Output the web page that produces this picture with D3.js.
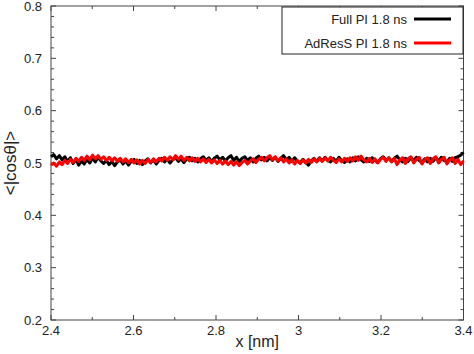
<!DOCTYPE html>
<html>
<head>
<meta charset="utf-8">
<script src="https://cdn.jsdelivr.net/npm/d3@7"></script>
<style>
  body { margin: 0; background: #fff; }
  svg { display: block; font-family: "Liberation Sans", Arial, sans-serif; }
</style>
</head>
<body>
<div id="chart"></div>
<script>
const W = 474, H = 354;
const margin = { top: 6, right: 10.5, bottom: 34, left: 51 };

// sampled <|cos theta|> profiles, evenly spaced from x0 to x1
const x0 = 2.4, x1 = 3.4;
const fullPI = [
  0.512,0.516,0.508,0.514,0.506,0.512,0.503,0.510,0.499,0.507,
  0.496,0.504,0.498,0.507,0.500,0.509,0.502,0.511,0.504,0.499,
  0.505,0.497,0.503,0.495,0.502,0.506,0.498,0.504,0.496,0.503,
  0.507,0.499,0.505,0.497,0.504,0.508,0.500,0.506,0.498,0.505,
  0.509,0.502,0.507,0.500,0.506,0.510,0.503,0.508,0.501,0.507,
  0.511,0.504,0.509,0.502,0.508,0.512,0.505,0.510,0.503,0.509,
  0.513,0.506,0.511,0.504,0.510,0.514,0.505,0.511,0.503,0.509,
  0.512,0.505,0.510,0.502,0.509,0.513,0.506,0.511,0.504,0.510,
  0.505,0.511,0.503,0.509,0.514,0.506,0.511,0.503,0.510,0.504,
  0.500,0.507,0.501,0.496,0.504,0.509,0.503,0.510,0.504,0.511,
  0.505,0.502,0.509,0.503,0.511,0.505,0.501,0.508,0.502,0.510,
  0.504,0.512,0.506,0.502,0.509,0.503,0.510,0.505,0.501,0.508,
  0.512,0.505,0.510,0.503,0.509,0.513,0.506,0.502,0.509,0.503,
  0.510,0.504,0.511,0.505,0.501,0.508,0.502,0.509,0.503,0.510,
  0.504,0.511,0.505,0.502,0.509,0.503,0.510,0.512,0.515,0.520
];
const adress = [
  0.496,0.500,0.494,0.502,0.497,0.505,0.499,0.507,0.501,0.509,
  0.503,0.511,0.505,0.513,0.506,0.515,0.508,0.514,0.507,0.512,
  0.505,0.511,0.504,0.510,0.503,0.509,0.502,0.508,0.501,0.507,
  0.500,0.506,0.498,0.505,0.499,0.507,0.501,0.508,0.502,0.509,
  0.504,0.511,0.505,0.512,0.506,0.514,0.507,0.513,0.505,0.511,
  0.504,0.510,0.503,0.509,0.502,0.508,0.501,0.507,0.500,0.506,
  0.499,0.505,0.498,0.504,0.497,0.503,0.496,0.502,0.495,0.501,
  0.505,0.498,0.504,0.508,0.501,0.507,0.511,0.504,0.510,0.514,
  0.506,0.512,0.504,0.510,0.502,0.508,0.500,0.506,0.498,0.505,
  0.499,0.506,0.500,0.507,0.501,0.508,0.502,0.509,0.503,0.510,
  0.504,0.511,0.505,0.501,0.508,0.502,0.509,0.503,0.510,0.504,
  0.512,0.505,0.513,0.506,0.502,0.509,0.501,0.508,0.500,0.507,
  0.511,0.503,0.510,0.502,0.509,0.497,0.506,0.510,0.499,0.508,
  0.512,0.500,0.507,0.511,0.498,0.506,0.510,0.499,0.508,0.512,
  0.500,0.507,0.511,0.498,0.506,0.510,0.499,0.507,0.497,0.504
];
const xTicks = [2.4, 2.6, 2.8, 3.0, 3.2, 3.4];
const yTicks = [0.2, 0.3, 0.4, 0.5, 0.6, 0.7, 0.8];
const seriesNames = ["Full PI 1.8 ns", "AdResS PI 1.8 ns"];
const seriesColors = ["#000000", "#ff0000"];

const x = d3.scaleLinear().domain([x0, x1]).range([margin.left, W - margin.right]);
const y = d3.scaleLinear().domain([0.2, 0.8]).range([H - margin.bottom, margin.top]);

const svg = d3.select("#chart").append("svg").attr("width", W).attr("height", H);

// frame
svg.append("rect")
  .attr("x", x(x0)).attr("y", y(0.8))
  .attr("width", x(x1) - x(x0)).attr("height", y(0.2) - y(0.8))
  .attr("fill", "none").attr("stroke", "#444").attr("stroke-width", 1);

const tickCol = "#444";
const xMinor = d3.range(2.5, 3.4, 0.2);
const yMinor = d3.range(0.2, 0.8001, 0.02).filter(v => Math.abs(v * 10 - Math.round(v * 10)) > 1e-6);

const ticks = svg.append("g").attr("stroke", tickCol).attr("stroke-width", 1);
function xTick(v, len) {
  ticks.append("line").attr("x1", x(v)).attr("x2", x(v)).attr("y1", y(0.2)).attr("y2", y(0.2) - len);
  ticks.append("line").attr("x1", x(v)).attr("x2", x(v)).attr("y1", y(0.8)).attr("y2", y(0.8) + len);
}
function yTick(v, len) {
  ticks.append("line").attr("y1", y(v)).attr("y2", y(v)).attr("x1", x(x0)).attr("x2", x(x0) + len);
  ticks.append("line").attr("y1", y(v)).attr("y2", y(v)).attr("x1", x(x1)).attr("x2", x(x1) - len);
}
xTicks.forEach(v => xTick(v, 5));
xMinor.forEach(v => xTick(v, 3));
yTicks.forEach(v => yTick(v, 5));
yMinor.forEach(v => yTick(v, 3));

// tick labels
svg.append("g").selectAll("text").data(xTicks).enter().append("text")
  .attr("x", d => x(d)).attr("y", y(0.2) + 15)
  .attr("text-anchor", "middle").attr("font-size", "13px").attr("fill", "#222")
  .text(d => d3.format("")(+d.toFixed(1)));
svg.append("g").selectAll("text").data(yTicks).enter().append("text")
  .attr("x", x(x0) - 9).attr("y", d => Math.max(y(d) + 4.5, 10))
  .attr("text-anchor", "end").attr("font-size", "13px").attr("fill", "#222")
  .text(d => d.toFixed(1));

// axis titles
svg.append("text")
  .attr("x", (x(x0) + x(x1)) / 2).attr("y", H - 7)
  .attr("text-anchor", "middle").attr("font-size", "16px").attr("fill", "#222")
  .text("x [nm]");
svg.append("text")
  .attr("transform", `translate(16,${(y(0.2) + y(0.8)) / 2}) rotate(-90)`)
  .attr("text-anchor", "middle").attr("font-size", "17px").attr("fill", "#222")
  .text("<|cosθ|>");

// lines
const step = (x1 - x0) / (fullPI.length - 1);
const line = d3.line().x((d, i) => x(x0 + i * step)).y(d => y(d));
[fullPI, adress].forEach((s, k) => {
  svg.append("path").datum(s)
    .attr("d", line).attr("fill", "none")
    .attr("stroke", seriesColors[k]).attr("stroke-width", 3)
    .attr("stroke-linejoin", "round");
});

// legend
const lg = svg.append("g");
lg.append("rect").attr("x", 282).attr("y", 7).attr("width", 181).attr("height", 47)
  .attr("fill", "#fff").attr("stroke", "#222").attr("stroke-width", 1);
seriesNames.forEach((n, k) => {
  const ly = 19 + k * 24;
  lg.append("text").attr("x", 407).attr("y", ly + 4.5)
    .attr("text-anchor", "end").attr("font-size", "13px").attr("fill", "#222").text(n);
  lg.append("line").attr("x1", 414).attr("x2", 451).attr("y1", ly).attr("y2", ly)
    .attr("stroke", seriesColors[k]).attr("stroke-width", 3);
});
</script>
</body>
</html>
